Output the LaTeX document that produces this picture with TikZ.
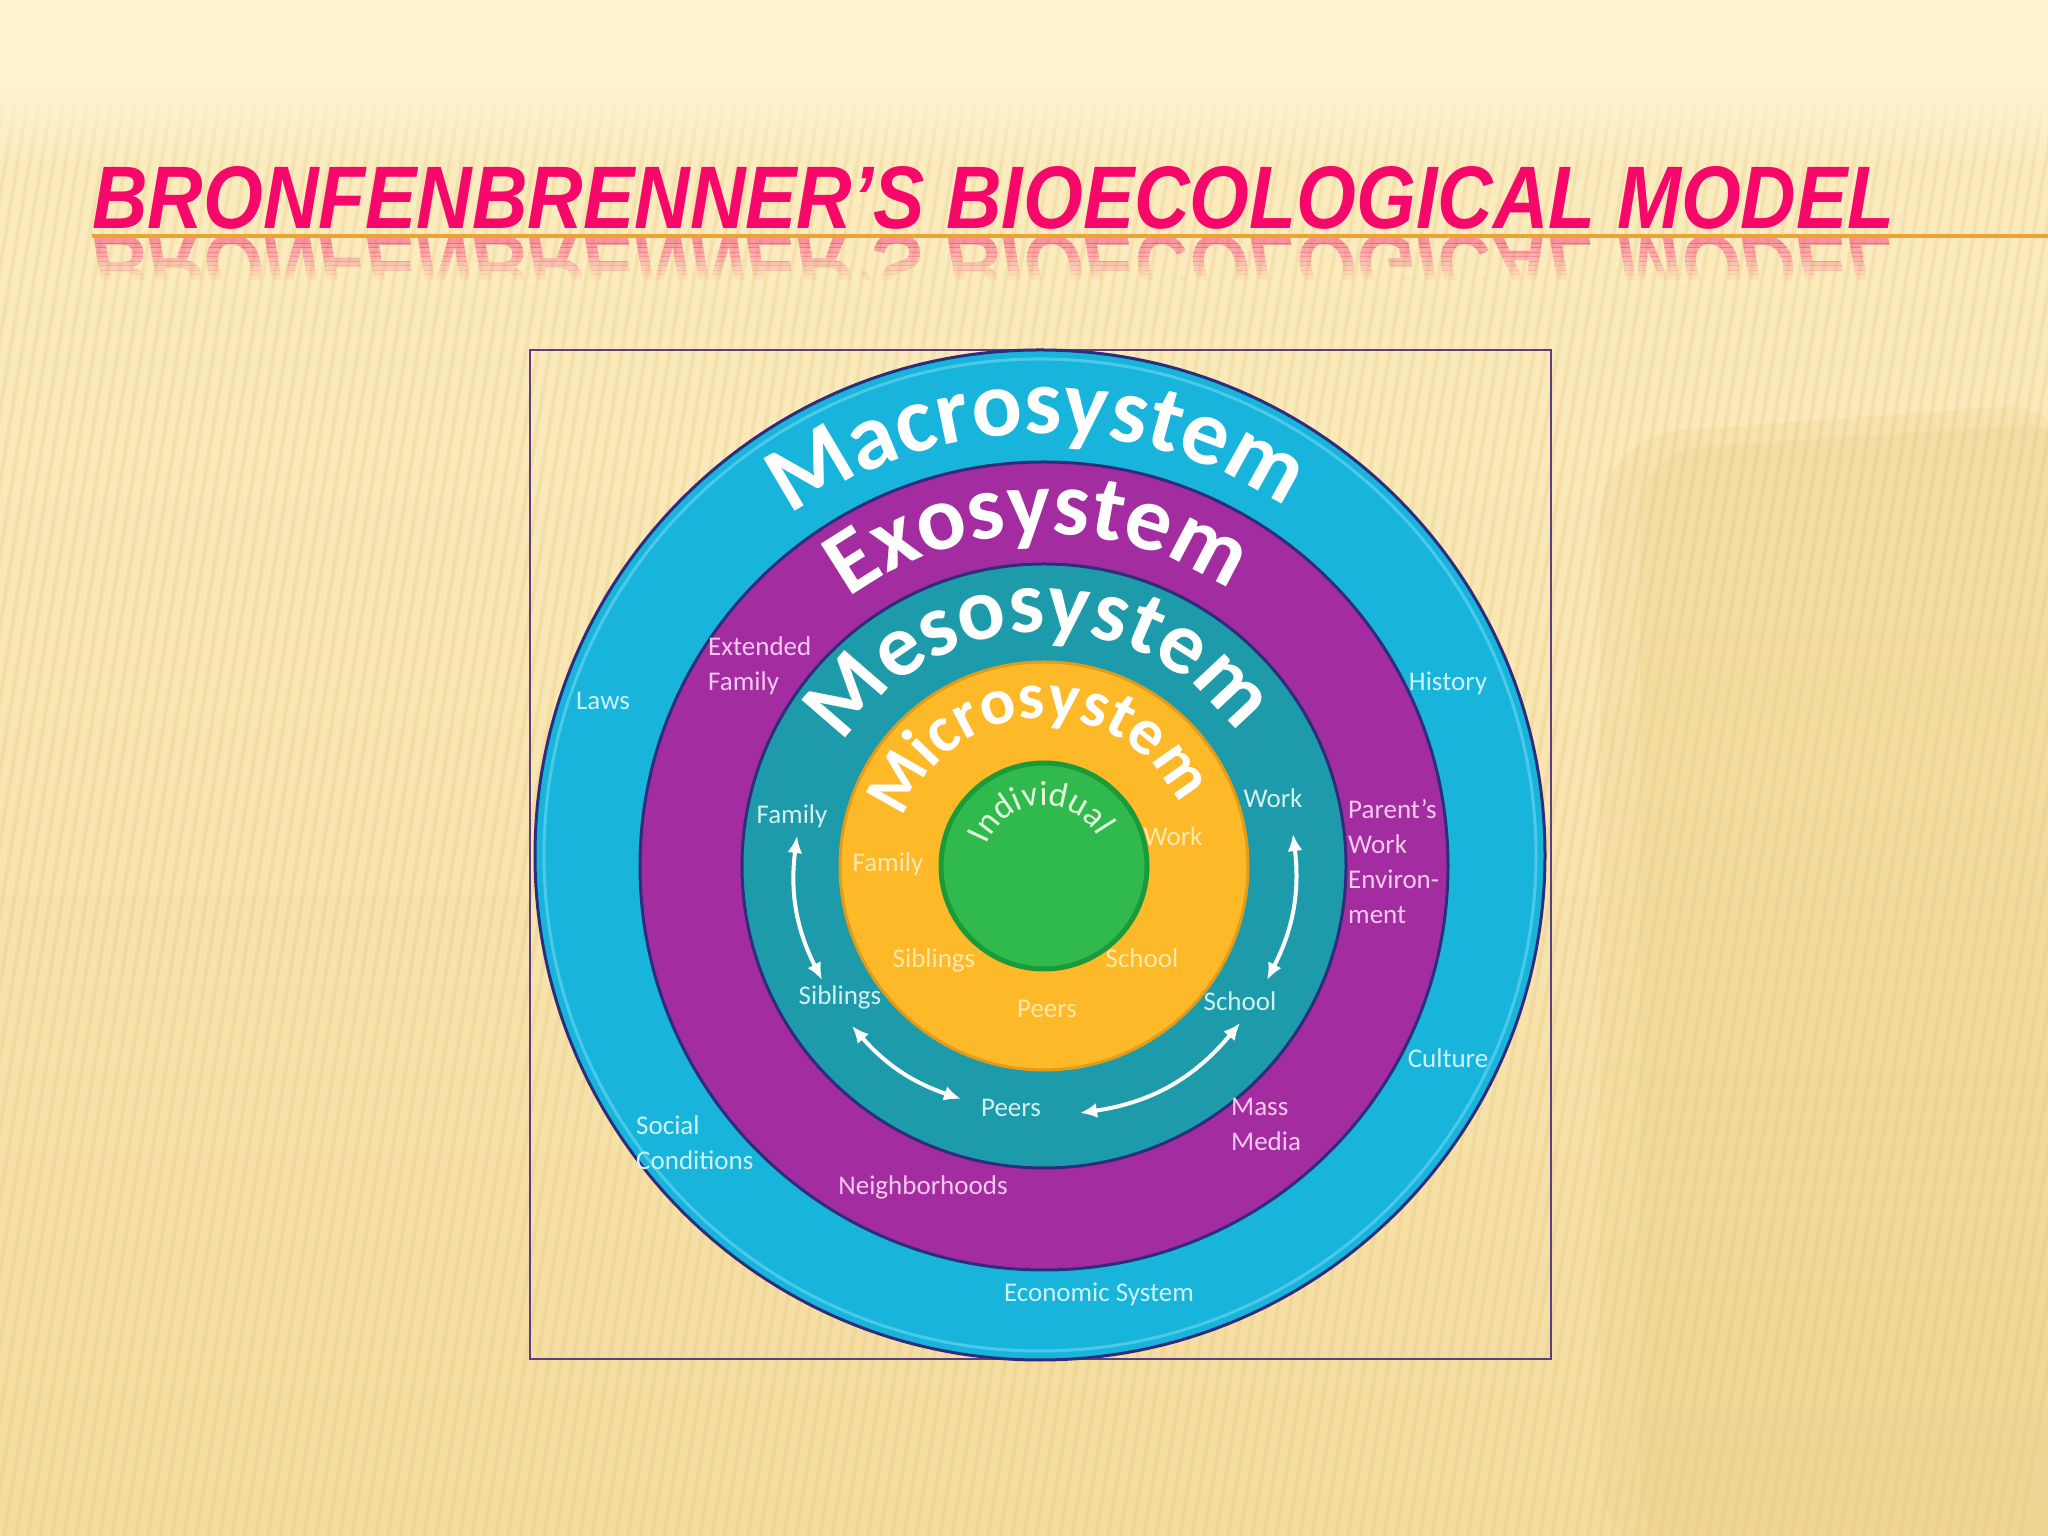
\documentclass[tikz,border=0pt]{standalone}
\usepackage{fontspec}
\setmainfont{Carlito}
\newfontfamily\titlefont{Liberation Sans}
\usetikzlibrary{decorations.text,arrows.meta,fadings}
\definecolor{bgTop}{HTML}{FEF3CF}
\definecolor{bgMid}{HTML}{FCEEC4}
\definecolor{bgLow}{HTML}{F4DC9E}
\definecolor{bgDark}{HTML}{E9CC80}
\definecolor{stripeC}{HTML}{E0BE72}
\definecolor{titlePink}{HTML}{F5086A}
\definecolor{lineOr}{HTML}{E9A436}
\definecolor{frameC}{HTML}{5A3E86}
\definecolor{edgeC}{HTML}{2E2D7C}
\definecolor{macroC}{HTML}{19B4DB}
\definecolor{macroL}{HTML}{5FD3EE}
\definecolor{exoC}{HTML}{A32DA0}
\definecolor{mesoC}{HTML}{1D9BAA}
\definecolor{microC}{HTML}{FDB928}
\definecolor{microEdge}{HTML}{E39B1A}
\definecolor{indC}{HTML}{30B94C}
\definecolor{indEdge}{HTML}{1B9A3A}
\definecolor{macroT}{HTML}{CDF3FA}
\definecolor{exoT}{HTML}{F6C9F1}
\definecolor{mesoT}{HTML}{D4F1F3}
\definecolor{microT}{HTML}{FEE8AE}
\definecolor{indT}{HTML}{E2F8DE}
\newcommand\labfont{\fontsize{27}{35}\selectfont}
\newcommand\bigMacro{\fontsize{94}{94}\selectfont\bfseries\color{white}}
\newcommand\bigExo{\fontsize{92}{92}\selectfont\bfseries\color{white}}
\newcommand\bigMeso{\fontsize{89}{89}\selectfont\bfseries\color{white}}
\newcommand\bigMicro{\fontsize{66}{66}\selectfont\bfseries\color{white}}
\newcommand\bigInd{\fontsize{35}{35}\selectfont\color{indT}}
\newcommand\titletext{\titlefont\bfseries\itshape BRONFENBRENNER’S BIOECOLOGICAL MODEL}
\begin{document}
\begin{tikzpicture}[x=1pt,y=1pt,
  lab/.style={font=\labfont, inner sep=0pt, align=left},
  macrolab/.style={lab, text=macroT},
  exolab/.style={lab, text=exoT},
  mesolab/.style={lab, text=mesoT},
  microlab/.style={lab, text=microT},
  arr/.style={draw=white, line width=4pt, {Latex[length=17pt,width=15pt]}-{Latex[length=17pt,width=15pt]}},
  ring/.style={draw=edgeC, line width=3pt},
  curved/.style={decorate, decoration={text along path, text align=center, text={#1}}}
]
\useasboundingbox (0,0) rectangle (2048,1536);
% background
\shade[top color=bgMid, bottom color=bgLow] (0,0) rectangle (2048,1536);
\fill[bgDark, opacity=0.18, rounded corners=80pt] (1600,-20) -- (1600,1100) -- (2080,1135) -- (2080,-20) -- cycle;
\fill[bgDark, opacity=0.18, rounded corners=60pt] (1640,-20) -- (1640,1085) -- (2080,1115) -- (2080,-20) -- cycle;
\foreach \i in {0,...,190} {
  \draw[stripeC, opacity=0.22, line width=4pt] (\i*12-260, 0) -- (\i*12-20, 1436);
}
\fill[bgTop] (0,1450) rectangle (2048,1536);
\fill[bgTop, path fading=south] (0,1370) rectangle (2048,1451);
% title
\draw[lineOr, line width=4.5pt] (92,1300) -- (2048,1300);
\node[anchor=south west, inner sep=0pt, text=titlePink] (title) at (92,1306) {\resizebox{1802pt}{62pt}{\titletext}};
\foreach \k in {0,...,8} {
  \pgfmathsetmacro\op{0.38*(1-\k/9)}
  \begin{scope}
    \clip (60,{1297-4.5*(\k+1)}) rectangle (1950,{1297-4.5*\k});
    \node[anchor=north west, inner sep=0pt, text=titlePink, opacity=\op] at (92,1302) {\scalebox{1}[-1]{\resizebox{1802pt}{62pt}{\titletext}}};
  \end{scope}
}
% frame
\draw[frameC, line width=2.5pt] (530,177) rectangle (1551,1186);
% rings
\coordinate (C) at (1044,670);
\coordinate (CO) at (1040,681);
\fill[macroC] (CO) circle[radius=505pt];
\draw[macroL, line width=3pt, opacity=0.7] (CO) circle[radius=496pt];
\draw[ring] (CO) circle[radius=505pt];
\fill[exoC, ring] (C) circle[radius=404pt];
\fill[mesoC, ring] (C) circle[radius=302pt];
\fill[microC, draw=microEdge, line width=3pt] (C) circle[radius=204pt];
\fill[indC, draw=indEdge, line width=5pt] (C) circle[radius=103pt];
% curved titles
\path[curved={|\bigMacro|Macrosystem}] ([shift={(176:432pt)}]C) arc[start angle=176, end angle=6, radius=432pt];
\path[curved={|\bigExo|Exosystem}] ([shift={(176:332pt)}]C) arc[start angle=176, end angle=6, radius=332pt];
\path[curved={|\bigMeso|Mesosystem}] ([shift={(181:234pt)}]C) arc[start angle=181, end angle=2, radius=234pt];
\path[curved={|\bigMicro|Microsystem}] ([shift={(183:148pt)}]C) arc[start angle=183, end angle=3, radius=148pt];
\path[curved={|\bigInd|Individual}] ([shift={(184:61pt)}]C) arc[start angle=184, end angle=4, radius=61pt];
% labels
\node[macrolab] (laws) at (603,835) {Laws};
\node[exolab, anchor=west] (extfam) at (708,870) {Extended\\Family};
\node[macrolab] (history) at (1448,853) {History};
\node[mesolab] (famM) at (792,720) {Family};
\node[mesolab] (workM) at (1273,738) {Work};
\node[exolab, anchor=west] (parent) at (1348,674) {Parent’s\\Work\\Environ-\\ment};
\node[microlab] (famY) at (888,672) {Family};
\node[microlab] (workY) at (1173,700) {Work};
\node[microlab] (sibY) at (934,576) {Siblings};
\node[microlab] (schY) at (1142,578) {School};
\node[microlab] (peerY) at (1047,527) {Peers};
\node[mesolab] (sibM) at (840,539) {Siblings};
\node[mesolab] (schM) at (1240,535) {School};
\node[mesolab] (peerM) at (1011,428) {Peers};
\node[macrolab] (culture) at (1448,478) {Culture};
\node[macrolab, anchor=west] (social) at (636,393) {Social\\Conditions};
\node[exolab, anchor=west] (mass) at (1231,412) {Mass\\Media};
\node[exolab] (neigh) at (923,349) {Neighborhoods};
\node[macrolab] (econ) at (1099,242) {Economic System};
% arrows
\coordinate (aL1) at (797,700);
\coordinate (aL2) at (822,556);
\coordinate (aR1) at (1267,556);
\coordinate (aR2) at (1293,702);
\coordinate (aB1) at (852,510);
\coordinate (aB2) at (961,437);
\coordinate (aC1) at (1080,423);
\coordinate (aC2) at (1240,513);
\draw[arr] (aL1) to[bend right=17] (aL2);
\draw[arr] (aR1) to[bend right=17] (aR2);
\draw[arr] (aB1) to[bend right=15] (aB2);
\draw[arr] (aC1) to[bend right=21] (aC2);
\end{tikzpicture}
\end{document}
